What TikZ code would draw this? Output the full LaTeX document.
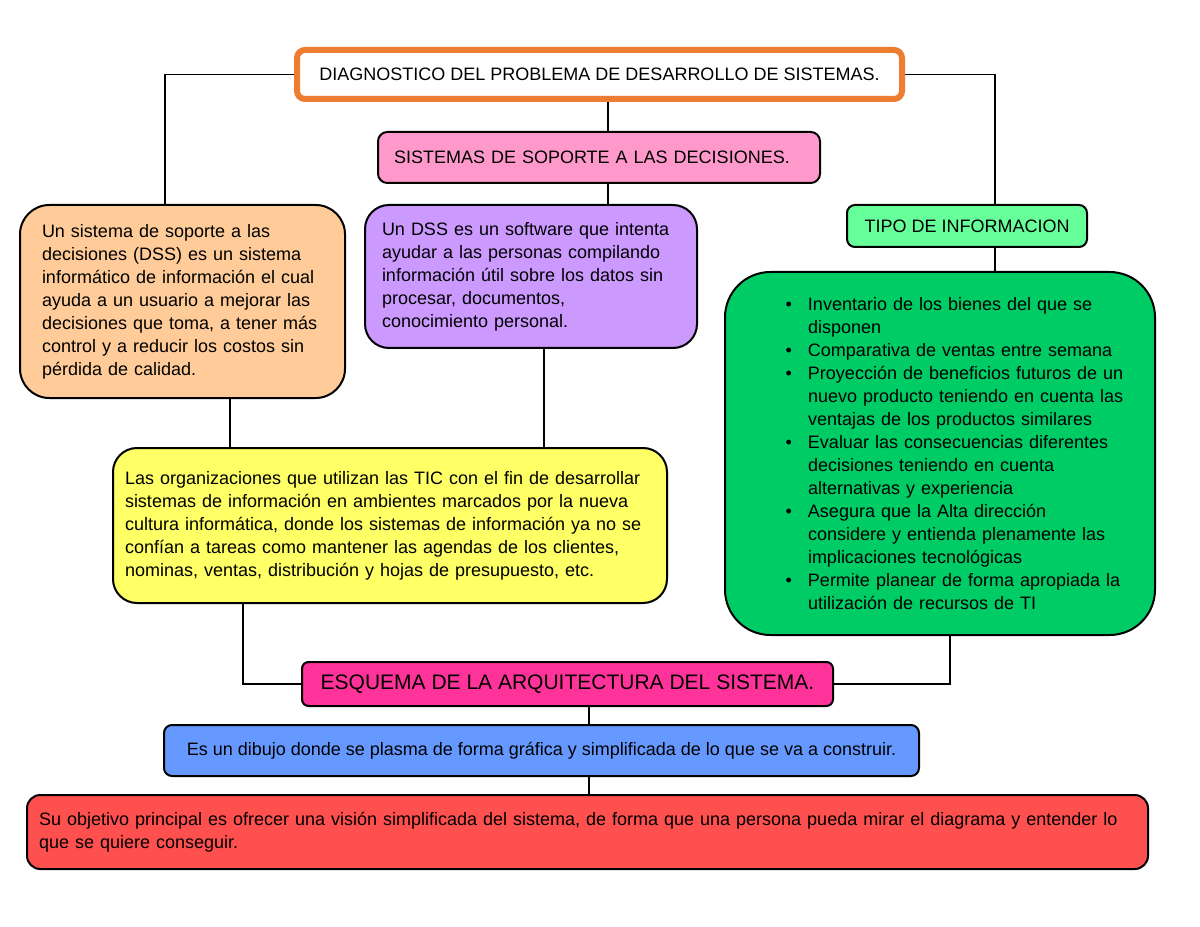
\documentclass[tikz,border=0pt]{standalone}
\usepackage{fontspec}
\setmainfont{Liberation Sans}
\usepackage{tikz}
\usetikzlibrary{shapes}

\begin{document}
\begin{tikzpicture}[x=0.75pt,y=0.75pt,yscale=-1,xscale=1,
  box/.style={draw=black, line width=1.5pt, align=left, inner ysep=0pt,
    font=\fontsize{13.5}{17.25}\selectfont},
  link/.style={line width=1.2pt}]
\useasboundingbox (0,0) rectangle (1200,927);

%Rounded Rect: diagnostico
\draw (599.5,74.5) node [box, draw={rgb, 255:red, 237; green, 125; blue, 49 }, line width=4.5pt, rounded corners=6pt, fill=white, minimum width=453.75pt, minimum height=36.75pt] (diag) {DIAGNOSTICO DEL PROBLEMA DE DESARROLLO DE SISTEMAS.};
%Rounded Rect: soporte
\draw (599,157.5) node [box, fill={rgb, 255:red, 255; green, 153; blue, 204 }, rounded corners=7pt, text width=307.5pt, inner xsep=12pt, minimum height=38.25pt] (sds) {SISTEMAS DE SOPORTE A LAS DECISIONES.};
%Rounded Rect: dss def
\draw (182.5,301.5) node [box, fill={rgb, 255:red, 255; green, 204; blue, 153 }, rounded corners=22pt, text width=210.75pt, inner xsep=16.5pt, minimum height=144.75pt] (dssdef) {Un sistema de soporte a las\\decisiones (DSS) es un sistema\\informático de información el cual\\ayuda a un usuario a mejorar las\\decisiones que toma, a tener más\\control y a reducir los costos sin\\pérdida de calidad.};
%Rounded Rect: dss software
\draw (531,276.5) node [box, fill={rgb, 255:red, 204; green, 153; blue, 255 }, rounded corners=18pt, text width=223.5pt, inner xsep=12.75pt, minimum height=107.25pt] (dsssw) {Un DSS es un software que intenta\\ayudar a las personas compilando\\información útil sobre los datos sin\\procesar, documentos,\\conocimiento personal.};
%Rounded Rect: tipo
\draw (967,226) node [box, fill={rgb, 255:red, 102; green, 255; blue, 153 }, rounded corners=6pt, minimum width=180pt, minimum height=31.5pt] (tipo) {TIPO DE INFORMACION};
%Rounded Rect: lista
\draw (940,453.5) node [box, fill={rgb, 255:red, 0; green, 204; blue, 102 }, rounded corners=34pt, text width=304.5pt, inner xsep=9pt, minimum height=272.25pt] (lista) {\leftskip=53.25pt
\leavevmode\llap{\textbullet\hspace{12pt}}Inventario de los bienes del que se\\disponen\\
\leavevmode\llap{\textbullet\hspace{12pt}}Comparativa de ventas entre semana\\
\leavevmode\llap{\textbullet\hspace{12pt}}Proyección de beneficios futuros de un\\nuevo producto teniendo en cuenta las\\ventajas de los productos similares\\
\leavevmode\llap{\textbullet\hspace{12pt}}Evaluar las consecuencias diferentes\\decisiones teniendo en cuenta\\alternativas y experiencia\\
\leavevmode\llap{\textbullet\hspace{12pt}}Asegura que la Alta dirección\\considere y entienda plenamente las\\implicaciones tecnológicas\\
\leavevmode\llap{\textbullet\hspace{12pt}}Permite planear de forma apropiada la\\utilización de recursos de TI\par};
%Rounded Rect: tic
\draw (390,525.5) node [box, fill={rgb, 255:red, 255; green, 255; blue, 102 }, rounded corners=18pt, text width=397.5pt, inner xsep=9pt, minimum height=116.25pt] (tic) {Las organizaciones que utilizan las TIC con el fin de desarrollar\\sistemas de información en ambientes marcados por la nueva\\cultura informática, donde los sistemas de información ya no se\\confían a tareas como mantener las agendas de los clientes,\\nominas, ventas, distribución y hojas de presupuesto, etc.};
%Rounded Rect: esquema
\draw (567.5,684) node [box, fill={rgb, 255:red, 255; green, 51; blue, 153 }, rounded corners=5pt, minimum width=398.25pt, minimum height=33pt, font=\fontsize{15.75}{19}\selectfont] (esq) {ESQUEMA DE LA ARQUITECTURA DEL SISTEMA.};
%Rounded Rect: dibujo
\draw (541.5,750.5) node [box, fill={rgb, 255:red, 102; green, 153; blue, 255 }, rounded corners=6pt, minimum width=566.25pt, minimum height=38.25pt] (dib) {Es un dibujo donde se plasma de forma gráfica y simplificada de lo que se va a construir.};
%Rounded Rect: objetivo
\draw (587.5,832) node [box, fill={rgb, 255:red, 255; green, 80; blue, 80 }, rounded corners=10pt, text width=822.75pt, inner xsep=9pt, minimum height=55.5pt] (obj) {Su objetivo principal es ofrecer una visión simplificada del sistema, de forma que una persona pueda mirar el diagrama y entender lo\\que se quiere conseguir.};

%Columns of the connectors
\coordinate (cl) at (165,0);
\coordinate (cr) at (995,0);
\coordinate (cs) at (608,0);
\coordinate (ca) at (230,0);
\coordinate (cb) at (544,0);
\coordinate (cc) at (243,0);
\coordinate (cd) at (950,0);
\coordinate (ce) at (589,0);

%Straight Lines
\draw [link] (diag.west) -| (cl |- dssdef.north);
\draw [link] (diag.east) -| (cr |- tipo.north);
\draw [link] (tipo.south -| cr) -- (lista.north -| cr);
\draw [link] (diag.south -| cs) -- (sds.north -| cs);
\draw [link] (sds.south -| cs) -- (dsssw.north -| cs);
\draw [link] (dssdef.south -| ca) -- (tic.north -| ca);
\draw [link] (dsssw.south -| cb) -- (tic.north -| cb);
\draw [link] (tic.south -| cc) |- (esq.west);
\draw [link] (lista.south -| cd) |- (esq.east);
\draw [link] (esq.south -| ce) -- (dib.north -| ce);
\draw [link] (dib.south -| ce) -- (obj.north -| ce);

\end{tikzpicture}
\end{document}
